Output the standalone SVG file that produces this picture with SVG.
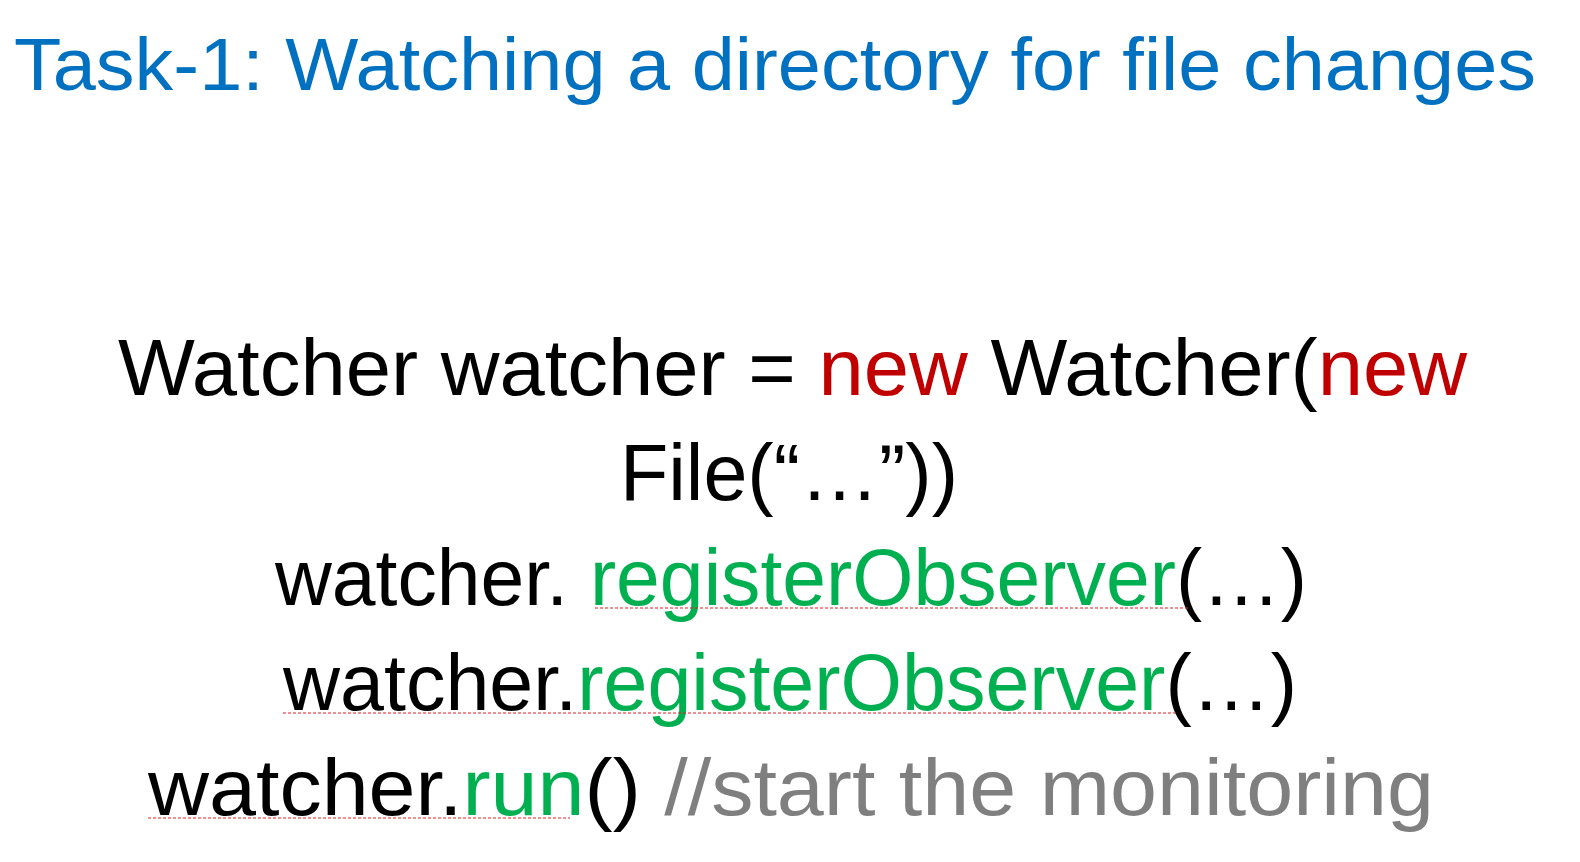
<svg xmlns="http://www.w3.org/2000/svg" width="1580" height="862" viewBox="0 0 1580 862">
<style>
text{font-family:"Liberation Sans",Arial,sans-serif;}
.b{font-size:80px;fill:#000}
.r{fill:#C00000}.g{fill:#00B050}.y{fill:#7F7F7F}
.sq{fill:none;stroke:#E02020;stroke-width:1.2;stroke-dasharray:3 2}
</style>
<rect width="1580" height="862" fill="#fff"/>
<g id="title"><text x="14" y="90" font-size="74" fill="#0070C0" textLength="1522" lengthAdjust="spacingAndGlyphs">Task-1: Watching a directory for file changes</text></g>
<g id="code">
<text class="b" x="118" y="395" textLength="1349" lengthAdjust="spacingAndGlyphs">Watcher watcher = <tspan class="r">new</tspan> Watcher(<tspan class="r">new</tspan></text>
<text class="b" x="620" y="500" textLength="338" lengthAdjust="spacingAndGlyphs">File(“…”))</text>
<text class="b" x="275" y="605" textLength="1032" lengthAdjust="spacingAndGlyphs">watcher. <tspan class="g">registerObserver</tspan>(…)</text>
<text class="b" x="283" y="710" textLength="1014" lengthAdjust="spacingAndGlyphs">watcher.<tspan class="g">registerObserver</tspan>(…)</text>
<text class="b" x="148" y="815" textLength="1286" lengthAdjust="spacingAndGlyphs">watcher.<tspan class="g">run</tspan>() <tspan class="y">//start the monitoring</tspan></text>
</g>
<g id="marks">
<line class="sq" x1="595" y1="608" x2="1188" y2="608"/>
<line class="sq" x1="283" y1="713" x2="1178" y2="713"/>
<line class="sq" x1="148" y1="818" x2="570" y2="818"/>
</g>
</svg>
